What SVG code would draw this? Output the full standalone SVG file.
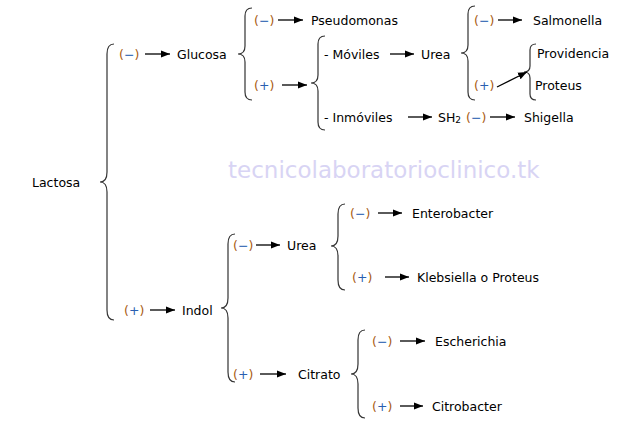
<svg xmlns="http://www.w3.org/2000/svg" width="628" height="432" viewBox="0 0 628 432">
<defs>
<marker id="ah" viewBox="0 0 10 10" refX="10" refY="5" markerWidth="9" markerHeight="9" markerUnits="userSpaceOnUse" orient="auto"><path d="M0,1 L10,5 L0,9 z" fill="#000"/></marker>
<style>
text{font-family:"DejaVu Sans",Verdana,sans-serif;font-size:12.5px;fill:#000;dominant-baseline:central}
.p{fill:#a85a10}.s{fill:#2a5fb0}
.b{fill:none;stroke:#333;stroke-width:1.2}
.a{stroke:#000;stroke-width:1.3;marker-end:url(#ah)}
.wm{font-size:23px;fill:#d8d4f4}
</style>
</defs>
<rect width="628" height="432" fill="#fff"/>
<text class="wm" x="228" y="170">tecnicolaboratorioclinico.tk</text>
<g id="braces">
<path class="b" d="M114,44 Q107,44 107,54 L107,172 Q107,182 100,182 Q107,182 107,192 L107,310 Q107,320 114,320"/>
<path class="b" d="M252,8 Q245,8 245,16 L245,46 Q245,54 238,54 Q245,54 245,62 L245,92 Q245,100 252,100"/>
<path class="b" d="M325,36 Q318,36 318,44 L318,75 Q318,83 311,83 Q318,83 318,91 L318,122 Q318,130 325,130"/>
<path class="b" d="M475,6 Q468,6 468,14 L468,45 Q468,53 461,53 Q468,53 468,61 L468,92 Q468,100 475,100"/>
<path class="b" d="M536,44 Q530,44 530,50 L530,66 Q530,72 524,72 Q530,72 530,78 L530,94 Q530,100 536,100"/>
<path class="b" d="M235,234 Q228,234 228,244 L228,298 Q228,308 221,308 Q228,308 228,318 L228,372 Q228,382 235,382"/>
<path class="b" d="M345,204 Q338,204 338,214 L338,236 Q338,246 331,246 Q338,246 338,256 L338,280 Q338,290 345,290"/>
<path class="b" d="M365,330 Q358,330 358,340 L358,364 Q358,374 351,374 Q358,374 358,384 L358,408 Q358,418 365,418"/>
</g>
<g id="connectors">
<line class="a" x1="145" y1="54" x2="170" y2="54"/>
<line class="a" x1="278" y1="20" x2="303" y2="20"/>
<line class="a" x1="282" y1="85" x2="307" y2="85"/>
<line class="a" x1="390" y1="54" x2="414" y2="54"/>
<line class="a" x1="408" y1="117" x2="432" y2="117"/>
<line class="a" x1="490" y1="117" x2="515" y2="117"/>
<line class="a" x1="498" y1="20" x2="522" y2="20"/>
<line class="a" x1="497" y1="87" x2="527" y2="72"/>
<line class="a" x1="150" y1="310" x2="175" y2="310"/>
<line class="a" x1="256" y1="245" x2="280" y2="245"/>
<line class="a" x1="378" y1="213" x2="402" y2="213"/>
<line class="a" x1="385" y1="277" x2="409" y2="277"/>
<line class="a" x1="260" y1="374" x2="286" y2="374"/>
<line class="a" x1="400" y1="341" x2="425" y2="341"/>
<line class="a" x1="400" y1="406" x2="423" y2="406"/>
</g>
<g id="n-lactosa"><text x="32" y="182">Lactosa</text></g>
<g id="n-glucosa"><text x="119" y="54"><tspan class="p">(</tspan><tspan class="s">−</tspan><tspan class="p">)</tspan></text><text x="177" y="54">Glucosa</text></g>
<g id="n-pseudomonas"><text x="254" y="20"><tspan class="p">(</tspan><tspan class="s">−</tspan><tspan class="p">)</tspan></text><text x="311" y="20">Pseudomonas</text></g>
<g id="n-gplus"><text x="254" y="85"><tspan class="p">(</tspan><tspan class="s">+</tspan><tspan class="p">)</tspan></text></g>
<g id="n-moviles"><text x="324" y="54">- Móviles</text><text x="421" y="54">Urea</text></g>
<g id="n-inmoviles"><text x="324" y="117">- Inmóviles</text><text x="438" y="117">SH<tspan font-size="9" dy="3">2</tspan></text><text x="466" y="117"><tspan class="p">(</tspan><tspan class="s">−</tspan><tspan class="p">)</tspan></text><text x="524" y="117">Shigella</text></g>
<g id="n-salmonella"><text x="474" y="20"><tspan class="p">(</tspan><tspan class="s">−</tspan><tspan class="p">)</tspan></text><text x="533" y="20">Salmonella</text></g>
<g id="n-uplus"><text x="474" y="85"><tspan class="p">(</tspan><tspan class="s">+</tspan><tspan class="p">)</tspan></text></g>
<g id="n-providencia"><text x="537" y="53">Providencia</text><text x="535" y="85">Proteus</text></g>
<g id="n-indol"><text x="124" y="310"><tspan class="p">(</tspan><tspan class="s">+</tspan><tspan class="p">)</tspan></text><text x="182" y="310">Indol</text></g>
<g id="n-urea2"><text x="233" y="245"><tspan class="p">(</tspan><tspan class="s">−</tspan><tspan class="p">)</tspan></text><text x="287" y="245">Urea</text></g>
<g id="n-enterobacter"><text x="350" y="213"><tspan class="p">(</tspan><tspan class="s">−</tspan><tspan class="p">)</tspan></text><text x="412" y="213">Enterobacter</text></g>
<g id="n-klebsiella"><text x="352" y="277"><tspan class="p">(</tspan><tspan class="s">+</tspan><tspan class="p">)</tspan></text><text x="417" y="277">Klebsiella o Proteus</text></g>
<g id="n-citrato"><text x="233" y="374"><tspan class="p">(</tspan><tspan class="s">+</tspan><tspan class="p">)</tspan></text><text x="298" y="374">Citrato</text></g>
<g id="n-escherichia"><text x="372" y="341"><tspan class="p">(</tspan><tspan class="s">−</tspan><tspan class="p">)</tspan></text><text x="435" y="341">Escherichia</text></g>
<g id="n-citrobacter"><text x="372" y="406"><tspan class="p">(</tspan><tspan class="s">+</tspan><tspan class="p">)</tspan></text><text x="432" y="406">Citrobacter</text></g>
</svg>
